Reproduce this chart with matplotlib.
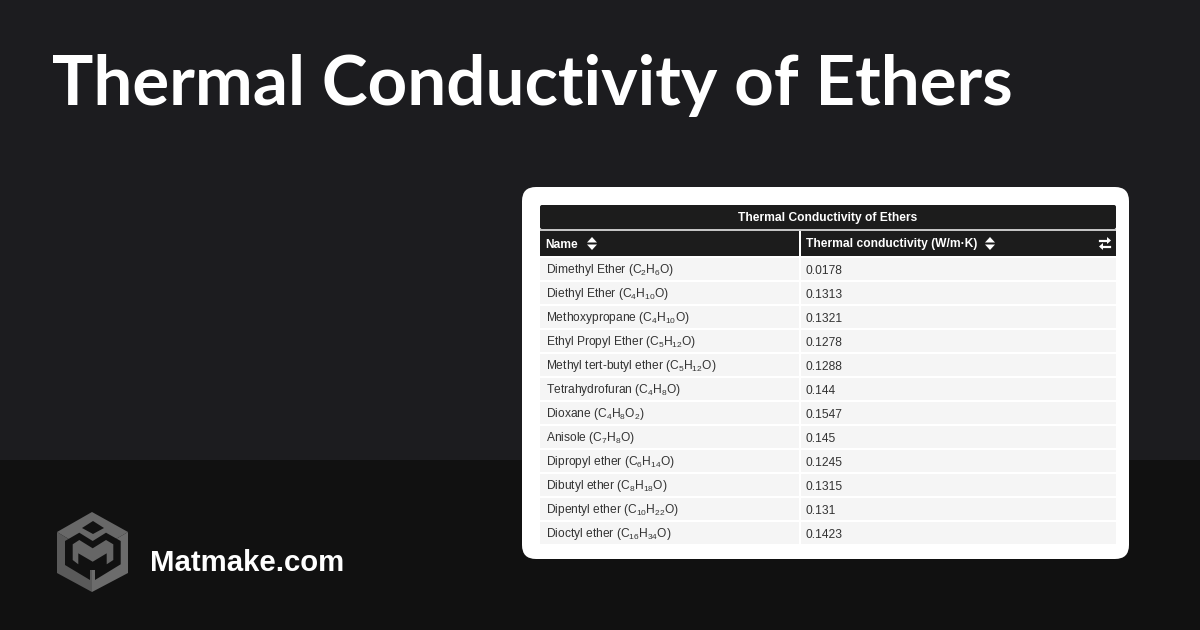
import matplotlib.pyplot as plt
from matplotlib.patches import FancyBboxPatch, Polygon, Rectangle

names = ['Dimethyl Ether (C$_2$H$_6$O)', 'Diethyl Ether (C$_4$H$_{10}$O)', 'Methoxypropane (C$_4$H$_{10}$O)',
         'Ethyl Propyl Ether (C$_5$H$_{12}$O)', 'Methyl tert-butyl ether (C$_5$H$_{12}$O)',
         'Tetrahydrofuran (C$_4$H$_8$O)', 'Dioxane (C$_4$H$_8$O$_2$)', 'Anisole (C$_7$H$_8$O)',
         'Dipropyl ether (C$_6$H$_{14}$O)', 'Dibutyl ether (C$_8$H$_{18}$O)',
         'Dipentyl ether (C$_{10}$H$_{22}$O)', 'Dioctyl ether (C$_{16}$H$_{34}$O)']
conductivity = ['0.0178', '0.1313', '0.1321', '0.1278', '0.1288', '0.144',
                '0.1547', '0.145', '0.1245', '0.1315', '0.131', '0.1423']
title = 'Thermal Conductivity of Ethers'
col_headers = ['Name', 'Thermal conductivity (W/m·K)']

plt.rcParams['font.family'] = 'Liberation Sans'
plt.rcParams['mathtext.fontset'] = 'custom'
plt.rcParams['mathtext.rm'] = 'Liberation Sans'
plt.rcParams['mathtext.default'] = 'rm'

fig = plt.figure(figsize=(12, 6.3), dpi=100, facecolor='#1c1c1f')
ax = fig.add_axes([0, 0, 1, 1])
ax.set_xlim(0, 1200)
ax.set_ylim(630, 0)
ax.axis('off')

ax.add_patch(Rectangle((0, 460), 1200, 170, fc='#111111', ec='none'))
ax.text(51.5, 105, title, color='white', fontsize=49.8, family='Lato', weight='bold', va='baseline')

# card
ax.add_patch(FancyBboxPatch((534, 199), 583, 348, boxstyle='round,pad=12,rounding_size=14', fc='white', ec='none'))

# header
ax.add_patch(FancyBboxPatch((540, 205), 576, 24, boxstyle='round,pad=0,rounding_size=2', fc='#1c1c1c', ec='none'))
ax.add_patch(Rectangle((540, 229), 576, 2, fc='#c4c4c4', ec='none'))
ax.text(828, 221, title, color='white', fontsize=8.64, weight='bold', ha='center', va='baseline')
ax.add_patch(Rectangle((540, 231), 259, 25, fc='#1c1c1c', ec='none'))
ax.add_patch(Rectangle((801, 231), 315, 25, fc='#1c1c1c', ec='none'))
ax.text(545.5, 247.5, col_headers[0], color='white', fontsize=8.64, weight='bold', va='baseline')
ax.text(806.5, 247.5, col_headers[1], color='white', fontsize=8.64, weight='bold', va='baseline')

# sort arrows
for x in [592, 990]:
    ax.add_patch(Polygon([(x - 5, 242.5), (x + 5, 242.5), (x, 237)], fc='white', ec='none'))
    ax.add_patch(Polygon([(x - 5, 244.5), (x + 5, 244.5), (x, 250)], fc='white', ec='none'))

# swap icon
ax.plot([1100, 1108], [240.5, 240.5], color='white', lw=1.6)
ax.plot([1102, 1110], [246.5, 246.5], color='white', lw=1.6)
ax.add_patch(Polygon([(1107, 237), (1111, 240.5), (1107, 244)], fc='white', ec='none'))
ax.add_patch(Polygon([(1103, 243), (1099, 246.5), (1103, 250)], fc='white', ec='none'))

# rows
for i, (name, val) in enumerate(zip(names, conductivity)):
    y = 258 + i * 24
    ax.add_patch(Rectangle((540, y), 259, 22, fc='#f5f5f5', ec='none'))
    ax.add_patch(Rectangle((801, y), 315, 22, fc='#f5f5f5', ec='none'))
    ax.text(545.5, y + 15.5, name, color='#333333', fontsize=8.64, va='baseline')
    ax.text(806, y + 15.5, val, color='#333333', fontsize=8.64, va='baseline')

# logo
ax.add_patch(Polygon([(92, 512), (128, 532), (92, 553), (57, 532)], fc='#686868', ec='none'))
ax.add_patch(Polygon([(57, 532), (92, 553), (92, 592), (57, 573)], fc='#5a5a5a', ec='none'))
ax.add_patch(Polygon([(128, 532), (92, 553), (92, 592), (128, 573)], fc='#6c6c6c', ec='none'))
ax.add_patch(Polygon([(82, 528), (93, 521), (104, 528), (93, 534)], fc='#111111', ec='none'))
ax.add_patch(Polygon([(65, 541), (79.3, 532.7), (92.7, 541), (106, 532.7), (120.7, 541), (120.7, 564.3), (95, 580),
                      (95, 570), (90, 570), (90, 580), (65, 565)], fc='#111111', ec='none'))
ax.add_patch(Polygon([(72.7, 544.3), (79.3, 540), (92.7, 548.3), (106, 540), (113.3, 544.3), (113.3, 560),
                      (106.7, 564.3), (106.7, 553.3), (92.7, 561.7), (78.3, 553.3), (78.3, 564.3), (72.7, 560)],
                     fc='#666666', ec='none'))
ax.text(149.5, 571, 'Matmake.com', color='white', fontsize=21.2, weight='bold', va='baseline')

fig.savefig('out.png', dpi=100, facecolor=fig.get_facecolor())
